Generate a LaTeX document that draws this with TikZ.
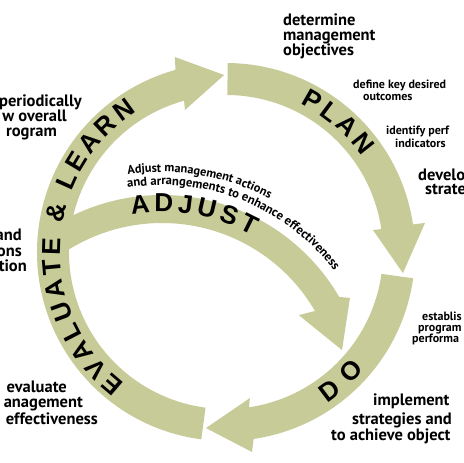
\documentclass[tikz,border=0pt]{standalone}
\usepackage{fontspec}
\setmainfont{PT Sans}
\newfontfamily\ringfont{Liberation Sans}
\usetikzlibrary{decorations.text}
\definecolor{sage}{RGB}{199,203,152}
\begin{document}
\begin{tikzpicture}[x=1pt,y=1pt,
  lab/.style={font=\bfseries\fontsize{16.5}{18}\selectfont, inner sep=0pt},
  labs/.style={font=\bfseries\fontsize{12}{13}\selectfont, inner sep=0pt},
  band/.style={fill=sage}]
\useasboundingbox (0,0) rectangle (463,463);
\clip (0,0) rectangle (463,463);
% main ring bands
\begin{scope}[shift={(226,211)}]
  \fill[band] (262.5:189) arc[start angle=262.5,end angle=105.5,radius=189] -- (104.7:201.6) -- (90.6:177) -- (106.1:147.8) -- (105.5:157) arc[start angle=105.5,end angle=262.5,radius=157] -- cycle;
  \fill[band] (89.5:189) arc[start angle=89.5,end angle=8.4,radius=189] -- (8.3:201.1) -- (-6.8:178.2) -- (8.5:148.6) -- (8.4:157) arc[start angle=8.4,end angle=89.5,radius=157] -- cycle;
  \fill[band] (-8:189) arc[start angle=-8,end angle=-81.6,radius=189] -- (-82.6:201.7) -- (-96.5:177.2) -- (-80.7:148) -- (-81.6:157) arc[start angle=-81.6,end angle=-8,radius=157] -- cycle;
\end{scope}
% adjust band
\begin{scope}[shift={(162,63)}]
  \fill[band] (125:205) arc[start angle=125,end angle=30.2,radius=205] -- (28.5:213.9) -- (15.5:186.8) -- (31.8:161) -- (30.2:177) arc[start angle=30.2,end angle=125,radius=177] -- cycle;
\end{scope}
% ring words
\begin{scope}[shift={(226,211)}]
  \path[decorate,decoration={text along path,text={|\ringfont\bfseries\fontsize{26}{26}\selectfont|PLAN},text align={fit to path}}] (63.2:166) arc[start angle=63.2,end angle=35.1,radius=166];
  \path[decorate,decoration={text along path,text={|\ringfont\bfseries\fontsize{26}{26}\selectfont|EVALUATE {\&} LEARN},text align={fit to path}}] (232.4:166) arc[start angle=232.4,end angle=122.6,radius=166];
  \path[decorate,decoration={text along path,text={|\ringfont\bfseries\fontsize{26}{26}\selectfont|DO},text align={fit to path}}] (-56:182) arc[start angle=-56,end angle=-40.4,radius=182];
\end{scope}
\begin{scope}[shift={(162,63)}]
  \path[decorate,decoration={text along path,text={|\ringfont\bfseries\fontsize{26}{26}\selectfont|ADJUST},text align={fit to path}}] (99.3:188) arc[start angle=99.3,end angle=61.2,radius=188];
  \path[decorate,decoration={text along path,text={|\bfseries\fontsize{12.3}{12}\selectfont|Adjust management actions},text align=left}] (98.6:228) arc[start angle=98.6,end angle=45,radius=228];
  \path[decorate,decoration={text along path,text={|\bfseries\fontsize{12.6}{12}\selectfont|and arrangements to enhance effectiveness},text align=left}] (99.2:215) arc[start angle=99.2,end angle=20,radius=215];
\end{scope}
% outside labels
\node[lab,anchor=base west] (t1) at (283,437) {determine};
\node[lab,anchor=base west] (t2) at (283,422) {management};
\node[lab,anchor=base west] (t3) at (283,407) {objectives};
\node[labs,anchor=base west] (d1) at (353,374) {define key desired};
\node[labs,anchor=base west] (d2) at (363,362) {outcomes};
\node[labs,anchor=base west] (i1) at (386,328) {identify perf};
\node[labs,anchor=base west] (i2) at (395,315) {indicators};
\node[lab,anchor=base west] (s1) at (418,282) {develo};
\node[lab,anchor=base west] (s2) at (425,268) {strate};
\node[labs,anchor=base west] (e1) at (422,142) {establis};
\node[labs,anchor=base west] (e2) at (418,131) {program};
\node[labs,anchor=base west] (e3) at (412,120) {performa};
\node[lab,anchor=base west] (m1) at (373,57) {implement};
\node[lab,anchor=base west] (m2) at (352,38) {strategies and};
\node[lab,anchor=base west] (m3) at (331,22) {to achieve object};
\node[lab,anchor=base east] (p1) at (82,356) {periodically};
\node[lab,anchor=base east] (p2) at (67,341) {w overall};
\node[lab,anchor=base east] (p3) at (57,326) {rogram};
\node[lab,anchor=base east] (a1) at (22,222) {and};
\node[lab,anchor=base east] (a2) at (22,206) {ons};
\node[lab,anchor=base east] (a3) at (27,191) {tion};
\node[lab,anchor=base east] (v1) at (67,70) {evaluate};
\node[lab,anchor=base east] (v2) at (83,55) {anagement};
\node[lab,anchor=base east] (v3) at (98,38) {effectiveness};
\end{tikzpicture}
\end{document}
